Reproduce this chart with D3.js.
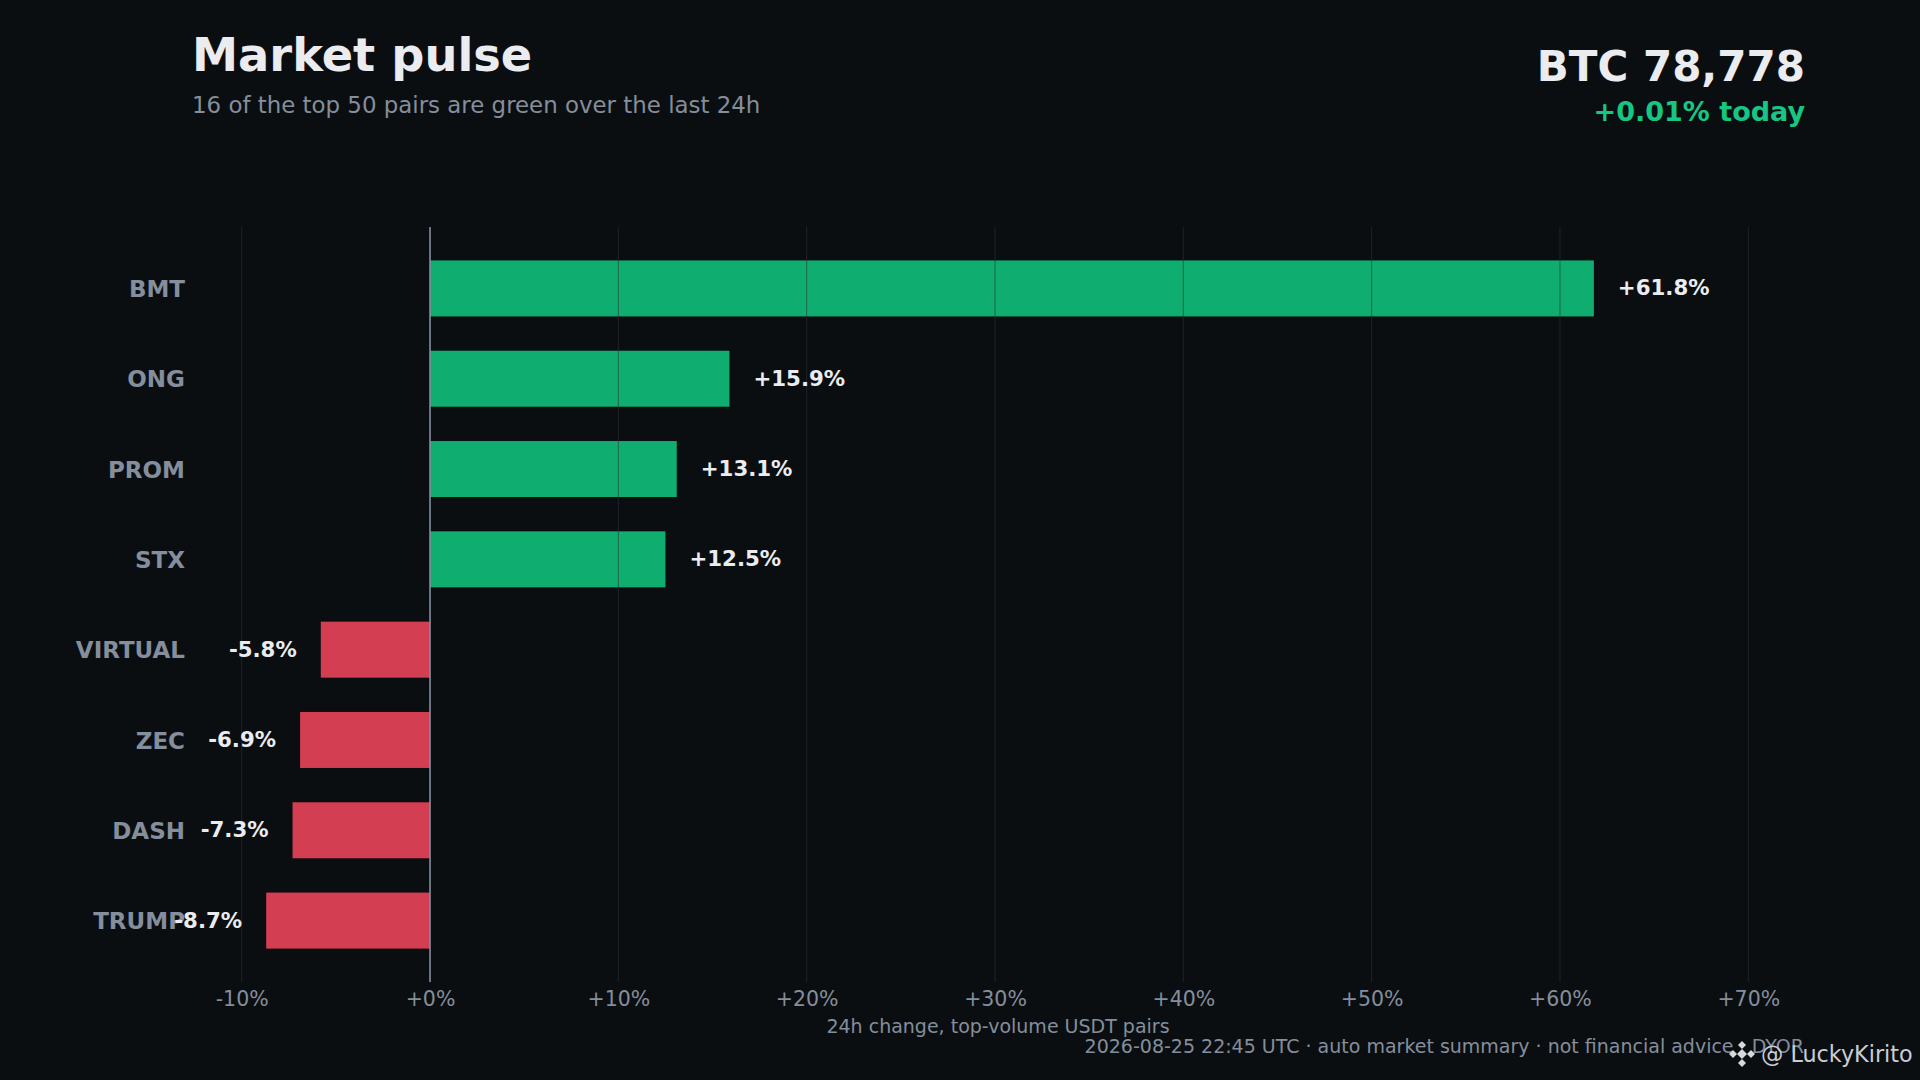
<!DOCTYPE html>
<html>
<head>
<meta charset="utf-8">
<script src="https://cdn.jsdelivr.net/npm/d3@7"></script>
<style>
  html, body { margin: 0; padding: 0; background: #0b0e11; }
  svg { display: block; font-family: "DejaVu Sans", sans-serif; }
</style>
</head>
<body>
<svg id="chart" width="1920" height="1080"></svg>
<script>
// data
const symbols = ["BMT", "ONG", "PROM", "STX", "VIRTUAL", "ZEC", "DASH", "TRUMP"];
const changes = [61.8, 15.9, 13.1, 12.5, -5.8, -6.9, -7.3, -8.7];
const xTicks = [-10, 0, 10, 20, 30, 40, 50, 60, 70];

const titleText = "Market pulse";
const subtitleText = "16 of the top 50 pairs are green over the last 24h";
const btcText = "BTC 78,778";
const btcChangeText = "+0.01% today";
const axisTitle = "24h change, top-volume USDT pairs";
const footerText = "2026-08-25 22:45 UTC · auto market summary · not financial advice · DYOR";
const watermark = "@ LuckyKirito";

const GREEN = "#0fae70", RED = "#d33e53";
const TEXT = "#eaecef", MUTED = "#848e9c";

const svg = d3.select("#chart");
svg.append("rect").attr("width", 1920).attr("height", 1080).attr("fill", "#0b0e11");

const plot = { left: 241.7, right: 1748.3, top: 227, bottom: 982 };

const x = d3.scaleLinear().domain([-10, 70]).range([plot.left, plot.right]);
const y = d3.scaleBand().domain(symbols).range([plot.top, plot.bottom])
  .paddingInner(0.38).paddingOuter(0.37);

const data = symbols.map((s, i) => ({ sym: s, v: changes[i] }));
const fmt = (v) => (v > 0 ? "+" : "") + v.toFixed(1) + "%";

// bars
svg.append("g").selectAll("rect").data(data).join("rect")
  .attr("x", (d) => x(Math.min(0, d.v)))
  .attr("y", (d) => y(d.sym))
  .attr("width", (d) => Math.abs(x(d.v) - x(0)))
  .attr("height", y.bandwidth())
  .attr("fill", (d) => (d.v >= 0 ? GREEN : RED));

// grid on top of the bars, faint
svg.append("g").selectAll("line").data(xTicks.filter((t) => t !== 0)).join("line")
  .attr("x1", (t) => x(t)).attr("x2", (t) => x(t))
  .attr("y1", plot.top).attr("y2", plot.bottom)
  .attr("stroke", "#2b3139").attr("stroke-opacity", 0.6).attr("stroke-width", 1);

// zero line
svg.append("line")
  .attr("x1", x(0)).attr("x2", x(0))
  .attr("y1", plot.top).attr("y2", plot.bottom)
  .attr("stroke", MUTED).attr("stroke-width", 1.6);

// x axis labels
const xAxis = svg.append("g")
  .attr("transform", `translate(0, ${plot.bottom})`)
  .call(d3.axisBottom(x).tickValues(xTicks).tickSize(0).tickPadding(9.5)
    .tickFormat((t) => (t >= 0 ? "+" : "") + t + "%"));
xAxis.select(".domain").remove();
xAxis.selectAll("text")
  .attr("fill", MUTED).attr("font-size", 20.5)
  .attr("font-family", "DejaVu Sans, sans-serif");

// category labels
const yAxis = svg.append("g")
  .attr("transform", "translate(185, 0)")
  .call(d3.axisLeft(y).tickSize(0).tickPadding(0));
yAxis.select(".domain").remove();
yAxis.selectAll("text")
  .attr("fill", MUTED).attr("font-size", 23).attr("font-weight", "bold")
  .attr("font-family", "DejaVu Sans, sans-serif")
  .attr("dy", "0.38em");

// value labels
svg.append("g").selectAll("text").data(data).join("text")
  .attr("x", (d) => (d.v >= 0 ? x(d.v) + 24 : x(d.v) - 24))
  .attr("y", (d) => y(d.sym) + y.bandwidth() / 2)
  .attr("dy", "0.33em")
  .attr("text-anchor", (d) => (d.v >= 0 ? "start" : "end"))
  .attr("font-size", 21.3).attr("font-weight", "bold")
  .attr("fill", TEXT)
  .text((d) => fmt(d.v));

// header
svg.append("text").attr("x", 192).attr("y", 71)
  .attr("font-size", 46.3).attr("font-weight", "bold").attr("fill", TEXT)
  .text(titleText);
svg.append("text").attr("x", 192).attr("y", 113)
  .attr("font-size", 22.9).attr("fill", MUTED)
  .text(subtitleText);
svg.append("text").attr("x", 1805).attr("y", 81)
  .attr("text-anchor", "end").attr("font-size", 42).attr("font-weight", "bold")
  .attr("fill", TEXT).text(btcText);
svg.append("text").attr("x", 1805).attr("y", 121)
  .attr("text-anchor", "end").attr("font-size", 27).attr("font-weight", "bold")
  .attr("fill", "#16c784").text(btcChangeText);

// axis title + footer
svg.append("text").attr("x", (plot.left + plot.right) / 2 + 3).attr("y", 1033)
  .attr("text-anchor", "middle").attr("font-size", 19).attr("fill", MUTED)
  .text(axisTitle);
svg.append("text").attr("x", 1804).attr("y", 1053)
  .attr("text-anchor", "end").attr("font-size", 19).attr("fill", MUTED)
  .text(footerText);

// watermark with a small diamond mark
const wm = svg.append("g").attr("transform", "translate(1742, 1054)").attr("fill", "#d6d9de");
const dia = (cx, cy, r) => `M${cx},${cy - r}L${cx + r},${cy}L${cx},${cy + r}L${cx - r},${cy}Z`;
wm.append("path").attr("d", dia(0, 0, 5));
[[0, -9], [9, 0], [0, 9], [-9, 0]].forEach(([dx, dy]) =>
  wm.append("path").attr("d", dia(dx, dy, 4)));
svg.append("text").attr("x", 1761).attr("y", 1062)
  .attr("font-size", 22.3).attr("fill", "#c9cdd3")
  .text(watermark);
</script>
</body>
</html>
